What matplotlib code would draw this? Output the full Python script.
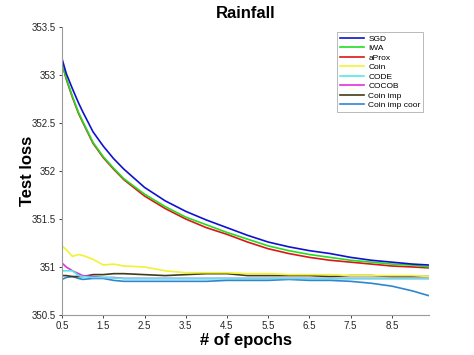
import numpy as np
import matplotlib.pyplot as plt

plt.rcParams['font.family'] = ['Liberation Sans', 'DejaVu Sans']

# Data
epochs = [0.5, 0.6, 0.75, 0.9, 1.0, 1.25, 1.5, 1.75, 2.0, 2.5, 3.0, 3.5,
          4.0, 4.5, 5.0, 5.5, 6.0, 6.5, 7.0, 7.5, 8.0, 8.5, 9.0, 9.4]

sgd = [353.17, 353.02, 352.86, 352.71, 352.62, 352.41, 352.26, 352.13, 352.02,
       351.83, 351.69, 351.58, 351.49, 351.41, 351.33, 351.26, 351.21, 351.17,
       351.14, 351.10, 351.07, 351.05, 351.03, 351.02]
iwa = [353.13, 352.97, 352.78, 352.61, 352.52, 352.30, 352.15, 352.03, 351.92,
       351.76, 351.63, 351.52, 351.44, 351.36, 351.29, 351.22, 351.17, 351.13,
       351.10, 351.07, 351.05, 351.03, 351.02, 351.00]
aprox = [353.12, 352.96, 352.77, 352.60, 352.51, 352.29, 352.14, 352.02, 351.91,
         351.74, 351.61, 351.50, 351.41, 351.34, 351.26, 351.19, 351.14, 351.10,
         351.07, 351.05, 351.03, 351.01, 351.00, 350.99]
coin = [351.22, 351.18, 351.11, 351.13, 351.12, 351.08, 351.02, 351.03, 351.01,
        351.00, 350.96, 350.94, 350.94, 350.94, 350.93, 350.93, 350.92, 350.92,
        350.92, 350.91, 350.91, 350.91, 350.91, 350.90]
code = [350.96, 350.96, 350.96, 350.91, 350.90, 350.89, 350.89, 350.885, 350.88,
        350.88, 350.88, 350.88, 350.88, 350.88, 350.88, 350.88, 350.88, 350.88,
        350.88, 350.88, 350.88, 350.88, 350.88, 350.88]
cocob = [351.04, 351.00, 350.96, 350.93, 350.91, 350.90, 350.89, 350.89, 350.88,
         350.88, 350.88, 350.88, 350.88, 350.88, 350.88, 350.88, 350.88, 350.88,
         350.88, 350.88, 350.88, 350.88, 350.88, 350.88]
coin_imp = [350.91, 350.91, 350.90, 350.90, 350.90, 350.92, 350.92, 350.93, 350.93,
            350.92, 350.91, 350.92, 350.93, 350.93, 350.91, 350.91, 350.91, 350.91,
            350.90, 350.91, 350.91, 350.90, 350.90, 350.90]
coin_imp_coor = [350.87, 350.89, 350.90, 350.88, 350.87, 350.88, 350.88, 350.86, 350.85,
                 350.85, 350.85, 350.85, 350.85, 350.86, 350.86, 350.86, 350.87, 350.86,
                 350.86, 350.85, 350.83, 350.80, 350.75, 350.70]

names = ["SGD", "IWA", "aProx", "Coin", "CODE", "COCOB", "Coin imp", "Coin imp coor"]
series = [sgd, iwa, aprox, coin, code, cocob, coin_imp, coin_imp_coor]
colors = ["#1010d0", "#22dd22", "#dd1515", "#f2f233", "#55e8e8",
          "#dd33dd", "#3d3d1a", "#2f86d0"]

xticks = [0.5, 1.5, 2.5, 3.5, 4.5, 5.5, 6.5, 7.5, 8.5]
yticks = [350.5, 351, 351.5, 352, 352.5, 353, 353.5]

fig = plt.figure(figsize=(4.74, 3.55), dpi=100)
ax = fig.add_axes([0.131, 0.113, 0.774, 0.81])

# draw back to front so SGD ends on top
for name, y, c in reversed(list(zip(names, series, colors))):
    ax.plot(epochs, y, color=c, lw=1.2, label=name)

ax.set_xlim(0.5, 9.4)
ax.set_ylim(350.5, 353.5)
ax.set_xticks(xticks)
ax.set_yticks(yticks)
ax.set_xticklabels(["%g" % v for v in xticks])
ax.set_yticklabels(["%g" % v for v in yticks])
ax.tick_params(labelsize=7, colors="#262626", length=2.5, width=0.6,
               direction="out", pad=2)
for side in ["top", "right"]:
    ax.spines[side].set_visible(False)
for side in ["left", "bottom"]:
    ax.spines[side].set_color("#9a9a9a")
    ax.spines[side].set_linewidth(0.8)

ax.set_title("Rainfall", fontsize=12, fontweight="bold", pad=7)
ax.set_xlabel("# of epochs", fontsize=12, fontweight="bold", labelpad=1)
ax.set_ylabel("Test loss", fontsize=12, fontweight="bold")
ax.yaxis.set_label_coords(-0.075, 0.5)

handles, labels = ax.get_legend_handles_labels()
leg = ax.legend(handles[::-1], labels[::-1], loc="upper right", fontsize=6,
                frameon=True, fancybox=False, edgecolor="#9a9a9a",
                borderpad=0.3, labelspacing=0.2, handlelength=2.9,
                handletextpad=0.5, borderaxespad=0,
                bbox_to_anchor=(0.984, 0.983))
leg.get_frame().set_linewidth(0.6)

fig.savefig("out.png", dpi=100)
